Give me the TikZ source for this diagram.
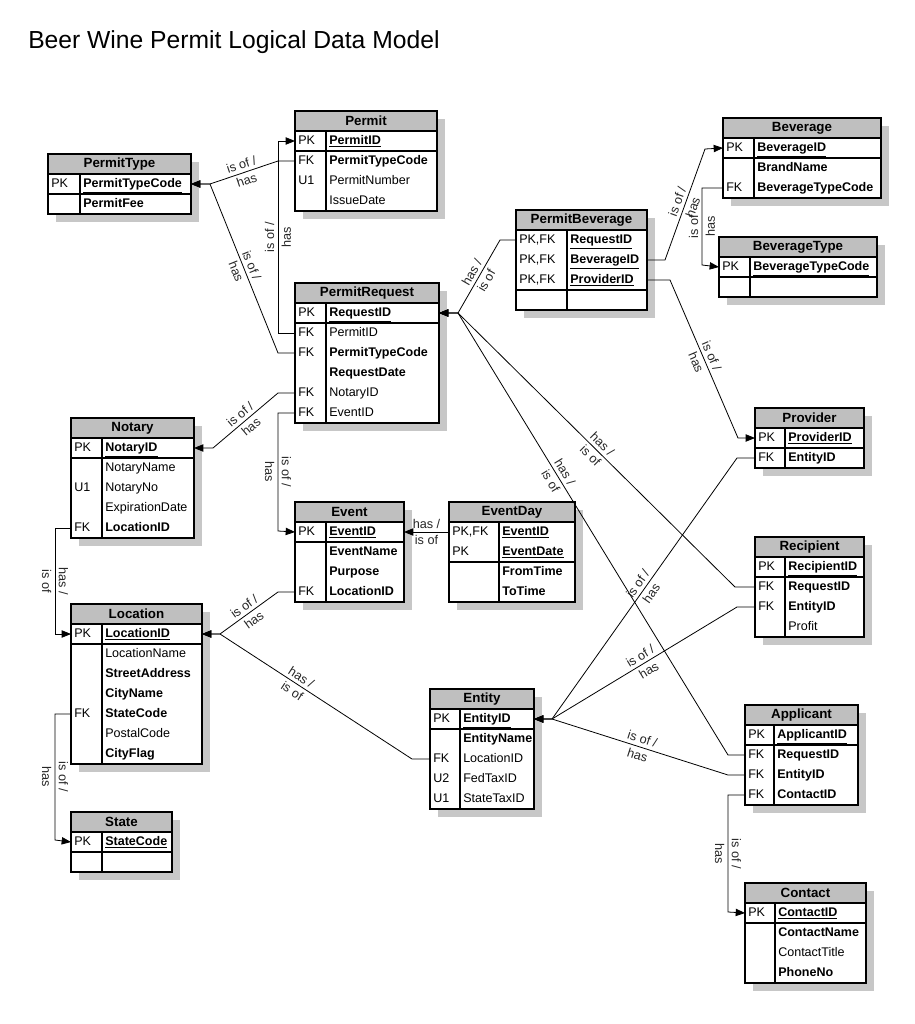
\documentclass[tikz,border=0pt]{standalone}
\usepackage{fontspec}
\setmainfont{Liberation Sans}
\usetikzlibrary{arrows.meta}
\newcommand\ufld[1]{\underline{\textbf{#1}}}
\newcommand\bfld[1]{\textbf{#1}}
\tikzset{
 tb/.style={line width=0.9pt},
 hdr/.style={fill=black!25,draw=black,line width=0.9pt},
 shadowc/.style={fill=black!22},
 cell/.style={anchor=west,inner sep=1.5pt,text height=7pt,text depth=2pt,font=\fontsize{9.4}{11}\selectfont},
 rel/.style={line width=0.6pt,-{Triangle[length=7pt,width=5.5pt]}},
 lbl/.style={font=\fontsize{9.5}{12.5}\selectfont,align=center,inner sep=0.5pt,text=black!85},
}
\newcommand\ertable[9]{%
 \pgfmathsetmacro\hb{#3+20+20*#8}%
 \fill[shadowc] (#2+8,#3+8) rectangle (#2+#4+8,\hb+8);
 \fill[white] (#2,#3) rectangle (#2+#4,\hb);
 \filldraw[hdr] (#2,#3) rectangle (#2+#4,#3+20);
 \node[font=\fontsize{10}{11}\selectfont\bfseries,inner sep=0pt] (#1) at (#2+#4/2,#3+10) {#6};
 \draw[tb] (#2,#3) rectangle (#2+#4,\hb);
 \draw[tb] (#2+#5,#3+20) -- (#2+#5,\hb);
 \draw[tb] (#2,#3+20+20*#7) -- (#2+#4,#3+20+20*#7);
 \foreach \k/\f [count=\i] in {#9} {
   \coordinate (#1-L\i) at (#2,#3+10+20*\i);
   \coordinate (#1-R\i) at (#2+#4,#3+10+20*\i);
   \node[cell] at (#2+1,#3+10+20*\i) {\k};
   \node[cell] at (#2+#5+1,#3+10+20*\i) {\f};
 }%
}
\begin{document}
\begin{tikzpicture}[x=0.75pt,y=-0.75pt]
\useasboundingbox (0,0) rectangle (914,1024);
\node[anchor=west,font=\fontsize{18.5}{20}\selectfont,inner sep=0pt] (title) at (28,42) {Beer Wine Permit Logical Data Model};

\ertable{PT}{48}{154}{143}{32}{PermitType}{1}{2}{PK/\ufld{PermitTypeCode},{}/\bfld{PermitFee}}
\ertable{PM}{295}{111}{142}{31}{Permit}{1}{4}{PK/\ufld{PermitID},FK/\bfld{PermitTypeCode},U1/PermitNumber,{}/IssueDate}
\ertable{PR}{295}{283}{144}{31}{PermitRequest}{1}{6}{PK/\ufld{RequestID},FK/PermitID,FK/\bfld{PermitTypeCode},{}/\bfld{RequestDate},FK/NotaryID,FK/EventID}
\ertable{PB}{516}{210}{131}{51}{PermitBeverage}{3}{4}{{PK,FK}/\ufld{RequestID},{PK,FK}/\ufld{BeverageID},{PK,FK}/\ufld{ProviderID},{}/{}}
\ertable{BV}{723}{118}{158}{31}{Beverage}{1}{3}{PK/\ufld{BeverageID},{}/\bfld{BrandName},FK/\bfld{BeverageTypeCode}}
\ertable{BT}{719}{237}{158}{31}{BeverageType}{1}{2}{PK/\ufld{BeverageTypeCode},{}/{}}
\ertable{PV}{755}{408}{109}{30}{Provider}{1}{2}{PK/\ufld{ProviderID},FK/\bfld{EntityID}}
\ertable{NT}{71}{418}{123}{31}{Notary}{1}{5}{PK/\ufld{NotaryID},{}/NotaryName,U1/NotaryNo,{}/ExpirationDate,FK/\bfld{LocationID}}
\ertable{EV}{295}{502}{109}{31}{Event}{1}{4}{PK/\ufld{EventID},{}/\bfld{EventName},{}/\bfld{Purpose},FK/\bfld{LocationID}}
\ertable{ED}{449}{502}{126}{50}{EventDay}{2}{4}{{PK,FK}/\ufld{EventID},PK/\ufld{EventDate},{}/\bfld{FromTime},{}/\bfld{ToTime}}
\ertable{LC}{71}{604}{131}{31}{Location}{1}{7}{PK/\ufld{LocationID},{}/LocationName,{}/\bfld{StreetAddress},{}/\bfld{CityName},FK/\bfld{StateCode},{}/PostalCode,{}/\bfld{CityFlag}}
\ertable{ST}{71}{812}{101}{31}{State}{1}{2}{PK/\ufld{StateCode},{}/{}}
\ertable{EN}{430}{689}{104}{30}{Entity}{1}{5}{PK/\ufld{EntityID},{}/\bfld{EntityName},FK/LocationID,U2/FedTaxID,U1/StateTaxID}
\ertable{RC}{755}{537}{109}{30}{Recipient}{1}{4}{PK/\ufld{RecipientID},FK/\bfld{RequestID},FK/\bfld{EntityID},{}/Profit}
\ertable{AP}{745}{705}{113}{29}{Applicant}{1}{4}{PK/\ufld{ApplicantID},FK/\bfld{RequestID},FK/\bfld{EntityID},FK/\bfld{ContactID}}
\ertable{CT}{745}{883}{121}{30}{Contact}{1}{4}{PK/\ufld{ContactID},{}/\bfld{ContactName},{}/ContactTitle,{}/\bfld{PhoneNo}}

% junctions
\coordinate (jPT) at (210,184);
\coordinate (jNT) at (213,448);
\coordinate (jPR) at (458,313);
\coordinate (jBV) at (705,149);
\coordinate (jPV) at (738,438);
\coordinate (jEN) at (552,719);
\coordinate (jLC) at (220,634);

\draw[rel] (PM-L2) -- ++(-17,0) -- node[lbl,sloped]{is of /\\has} (jPT) -- (PT-R1);
\draw[rel] (PR-L3) -- ++(-17,0) -- node[lbl,sloped]{is of /\\has} (jPT) -- (PT-R1);
\draw[rel] (PR-L2) -- ++(-17,0) -- node[lbl,rotate=90]{is of /\\has} ++(0,-192) -- (PM-L1);
\draw[rel] (PR-L5) -- ++(-17,0) -- node[lbl,sloped]{is of /\\has} (jNT) -- (NT-R1);
\draw[rel] (PR-L6) -- ++(-17,0) -- node[lbl,rotate=-90]{is of /\\has} ++(0,118) -- (EV-L1);
\draw[rel] (PB-L1) -- ++(-16,0) -- node[lbl,sloped]{has /\\is of} (jPR) -- (PR-R1);
\draw[rel] (RC-L2) -- ++(-20,0) -- node[lbl,sloped]{has /\\is of} (jPR) -- (PR-R1);
\draw[rel] (AP-L2) -- ++(-17,0) -- node[lbl,sloped,pos=0.63]{has /\\is of} (jPR) -- (PR-R1);
\draw[rel] (PB-R2) -- ++(18,0) -- node[lbl,sloped]{is of /\\has} (jBV) -- (BV-L1);
\draw[rel] (BV-L3) -- ++(-21,0) -- node[lbl,rotate=90]{is of\\has} ++(0,77) -- (BT-L1);
\draw[rel] (PB-R3) -- ++(23,0) -- node[lbl,sloped]{is of /\\has} (jPV) -- (PV-L1);
\draw[rel] (PV-L2) -- ++(-18,0) -- node[lbl,sloped]{is of /\\has} (jEN) -- (EN-R1);
\draw[rel] (RC-L3) -- ++(-18,0) -- node[lbl,sloped]{is of /\\has} (jEN) -- (EN-R1);
\draw[rel] (AP-L3) -- ++(-17,0) -- node[lbl,sloped]{is of /\\has} (jEN) -- (EN-R1);
\draw[rel] (AP-L4) -- ++(-17,0) -- node[lbl,rotate=-90]{is of /\\has} ++(0,117) -- (CT-L1);
\draw[rel] (ED-L1) -- node[lbl]{has /\\is of} (EV-R1);
\draw[rel] (EV-L4) -- ++(-17,0) -- node[lbl,sloped]{is of /\\has} (jLC) -- (LC-R1);
\draw[rel] (EN-L3) -- ++(-18,0) -- node[lbl,sloped,pos=0.6]{has /\\is of} (jLC) -- (LC-R1);
\draw[rel] (NT-L5) -- ++(-16,0) -- node[lbl,rotate=-90]{has /\\is of} ++(0,106) -- (LC-L1);
\draw[rel] (LC-L5) -- ++(-16,0) -- node[lbl,rotate=-90]{is of /\\has} ++(0,126) -- (ST-L1);
\end{tikzpicture}
\end{document}
